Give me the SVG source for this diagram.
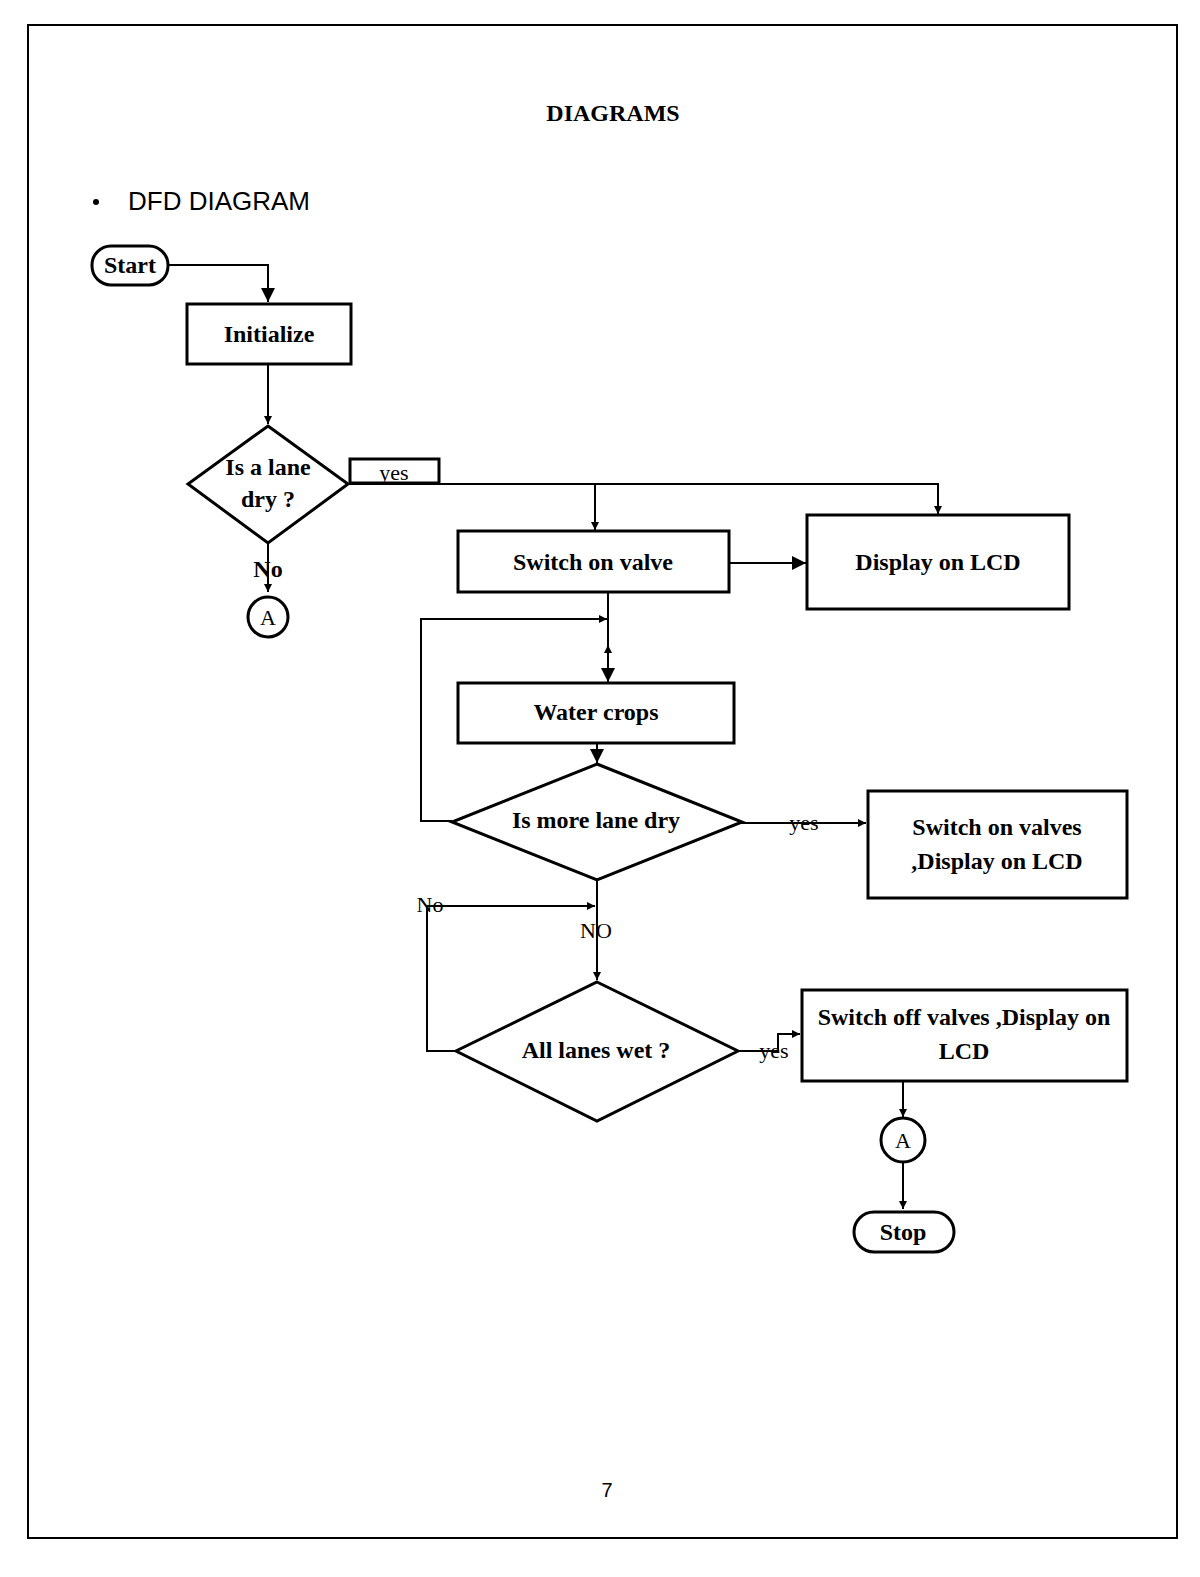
<svg xmlns="http://www.w3.org/2000/svg" width="1200" height="1577" viewBox="0 0 1200 1577">
<defs>
<style>
.s{fill:#fff;stroke:#000;stroke-width:3}
.l{fill:none;stroke:#000;stroke-width:2}
.t{font-family:"Liberation Serif",serif;font-weight:bold;font-size:24px;text-anchor:middle}
.n{font-family:"Liberation Serif",serif;font-size:22px;text-anchor:middle}
</style>
<marker id="a" viewBox="0 0 10 10" refX="10" refY="5" markerWidth="8" markerHeight="8" markerUnits="userSpaceOnUse" orient="auto"><path d="M0,0L10,5L0,10z"/></marker>
<marker id="b" viewBox="0 0 10 10" refX="10" refY="5" markerWidth="14" markerHeight="14" markerUnits="userSpaceOnUse" orient="auto"><path d="M0,0L10,5L0,10z"/></marker>
</defs>
<rect x="0" y="0" width="1200" height="1577" fill="#fff"/>
<rect x="28" y="25" width="1149" height="1513" fill="none" stroke="#000" stroke-width="2"/>
<text x="613" y="121" class="t">DIAGRAMS</text>
<circle cx="96" cy="202" r="3"/>
<text x="128" y="210" font-family="Liberation Sans,sans-serif" font-size="26">DFD DIAGRAM</text>
<g id="connectors">
<path class="l" d="M168,265H268V302" marker-end="url(#b)" stroke-width="3"/>
<path class="l" d="M268,365V424" marker-end="url(#a)"/>
<path class="l" d="M268,543V592" marker-end="url(#a)"/>
<path class="l" d="M348,484H938V514" marker-end="url(#a)"/>
<path class="l" d="M595,484V530" marker-end="url(#a)"/>
<path class="l" d="M729,563H806" marker-end="url(#b)" stroke-width="3"/>
<path class="l" d="M608,593V682" marker-end="url(#b)"/>
<path class="l" d="M608,680V645" marker-end="url(#a)"/>
<path class="l" d="M452,821H421V619H607" marker-end="url(#a)"/>
<path class="l" d="M597,743V763" marker-end="url(#b)" stroke-width="3"/>
<path class="l" d="M740,823H866" marker-end="url(#a)"/>
<path class="l" d="M597,880V980" marker-end="url(#a)"/>
<path class="l" d="M456,1051H427V906H595" marker-end="url(#a)" stroke-width="3"/>
<path class="l" d="M738,1051H778V1034H800" marker-end="url(#a)"/>
<path class="l" d="M903,1082V1117" marker-end="url(#a)"/>
<path class="l" d="M903,1163V1209" marker-end="url(#a)"/>
</g>
<g id="start"><rect x="92" y="246" width="76" height="39" rx="19" class="s"/><text x="130" y="273" class="t">Start</text></g>
<g id="init"><rect x="187" y="304" width="164" height="60" class="s"/><text x="269" y="342" class="t">Initialize</text></g>
<g id="dec1"><path d="M268,426L348,484L268,543L188,484Z" class="s"/><text x="268" y="475" class="t">Is a lane</text><text x="268" y="507" class="t">dry ?</text></g>
<g id="yes1"><rect x="350" y="459" width="89" height="24" class="s"/><text x="394" y="480" class="n">yes</text></g>
<text x="268" y="577" class="t">No</text>
<g id="a1"><circle cx="268" cy="617" r="20" class="s" stroke-width="2"/><text x="268" y="625" class="n">A</text></g>
<g id="valve"><rect x="458" y="531" width="271" height="61" class="s"/><text x="593" y="570" class="t">Switch on valve</text></g>
<g id="lcd"><rect x="807" y="515" width="262" height="94" class="s"/><text x="938" y="570" class="t">Display on LCD</text></g>
<g id="water"><rect x="458" y="683" width="276" height="60" class="s"/><text x="596" y="720" class="t">Water crops</text></g>
<g id="dec2"><path d="M597,764L742,822L597,880L452,822Z" class="s"/><text x="596" y="828" class="t">Is more lane dry</text></g>
<text x="804" y="830" class="n">yes</text>
<g id="valves"><rect x="868" y="791" width="259" height="107" class="s"/><text x="997" y="835" class="t">Switch on valves</text><text x="997" y="869" class="t">,Display on LCD</text></g>
<text x="430" y="912" class="n">No</text>
<text x="596" y="938" class="n">NO</text>
<g id="dec3"><path d="M597,982L738,1051L597,1121L456,1051Z" class="s"/><text x="596" y="1058" class="t">All lanes wet ?</text></g>
<text x="774" y="1058" class="n">yes</text>
<g id="off"><rect x="802" y="990" width="325" height="91" class="s"/><text x="964" y="1025" class="t">Switch off valves ,Display on</text><text x="964" y="1059" class="t">LCD</text></g>
<g id="a2"><circle cx="903" cy="1140" r="22" class="s" stroke-width="2"/><text x="903" y="1148" class="n">A</text></g>
<g id="stop"><rect x="854" y="1212" width="100" height="40" rx="20" class="s"/><text x="903" y="1240" class="t">Stop</text></g>
<text x="607" y="1497" font-family="Liberation Sans,sans-serif" font-size="20" text-anchor="middle">7</text>
</svg>
